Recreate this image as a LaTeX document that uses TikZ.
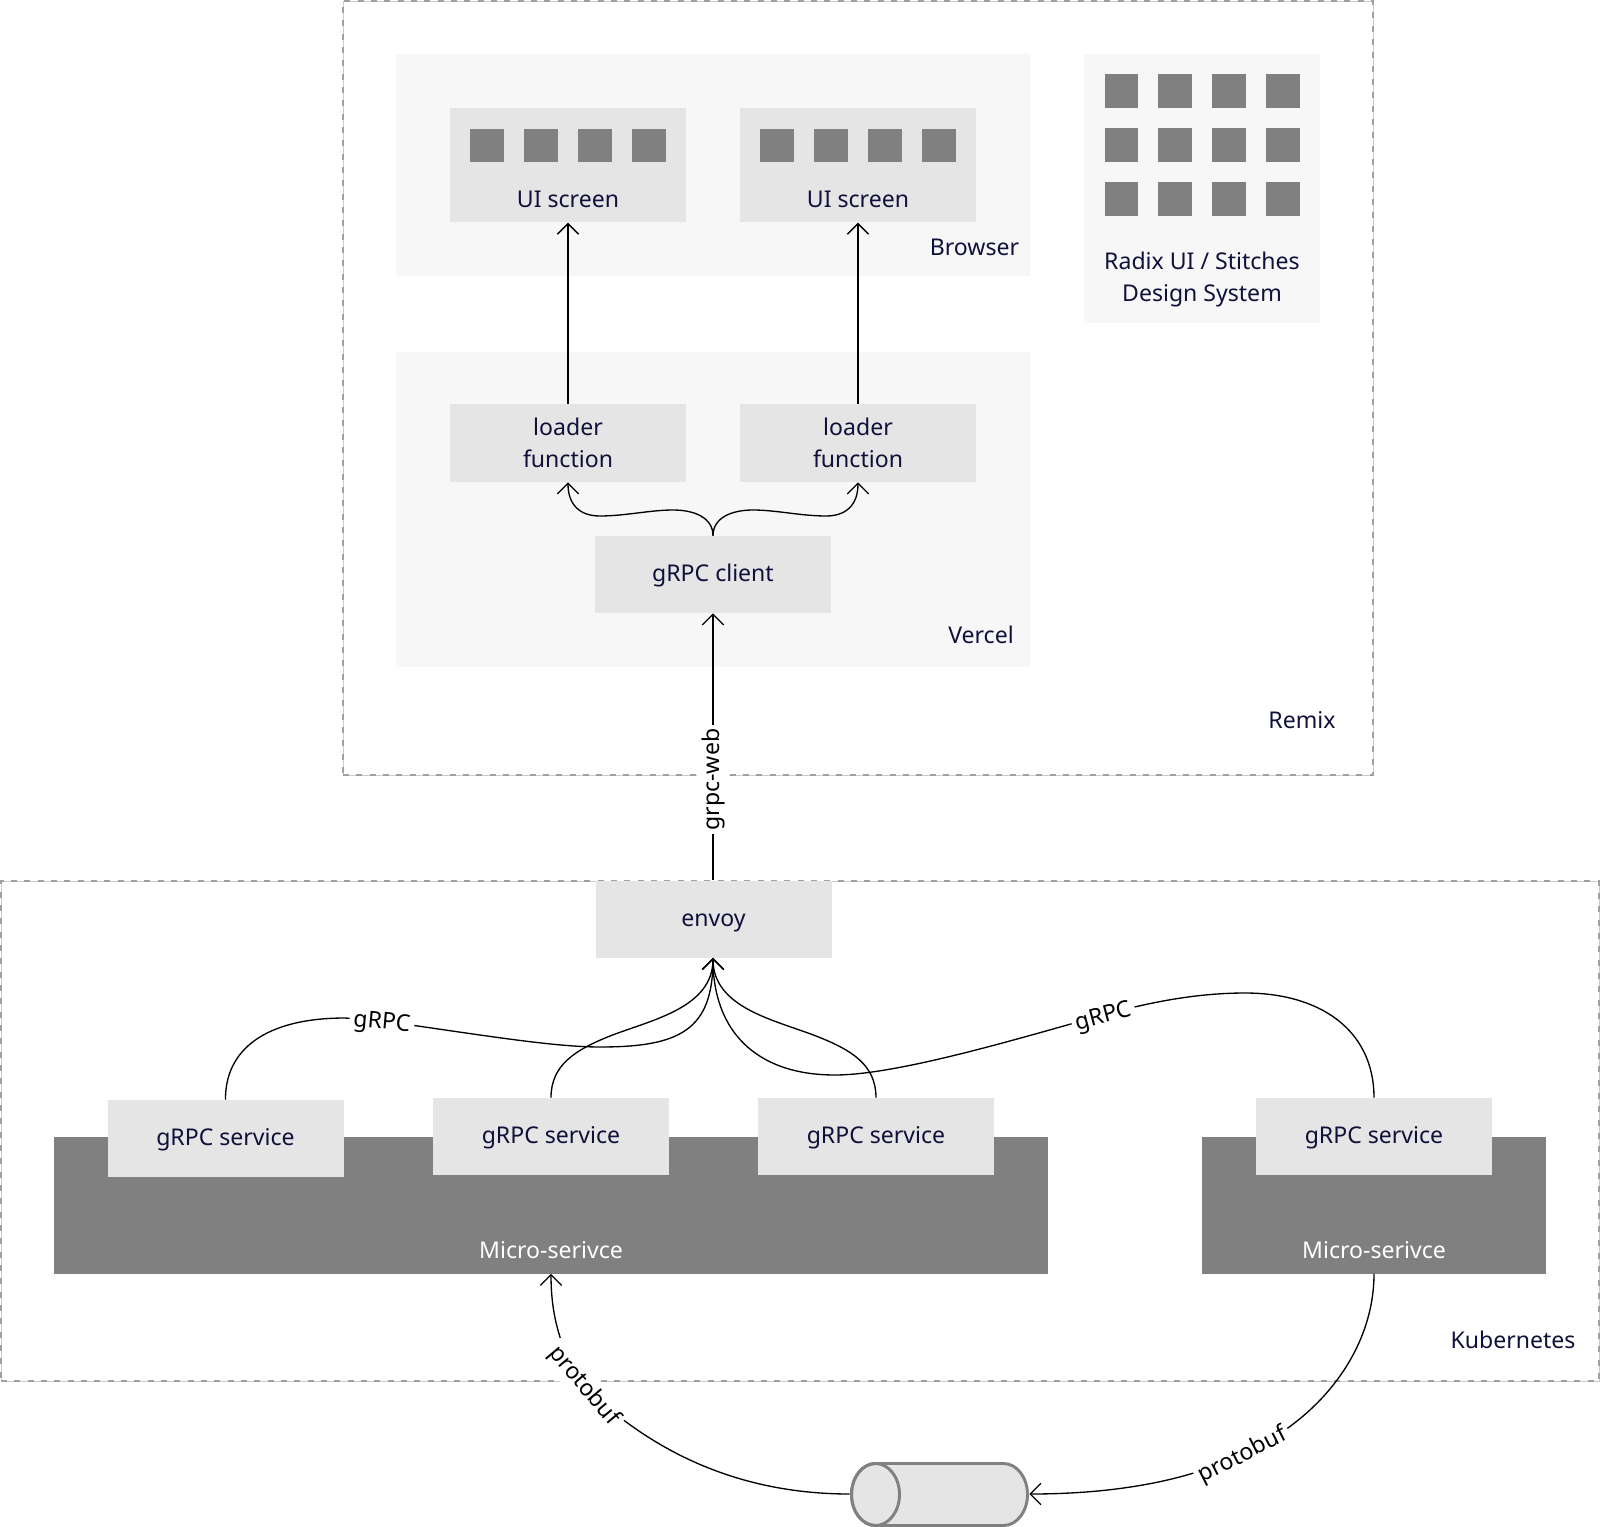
\documentclass[tikz,border=0pt]{standalone}
\usepackage{fontspec}
\setmainfont{Noto Sans}
\usetikzlibrary{arrows.meta}
\definecolor{panelgray}{HTML}{F7F7F7}
\definecolor{blockgray}{HTML}{E5E5E5}
\definecolor{darkgray}{HTML}{808080}
\definecolor{dashgray}{HTML}{A0A0A0}
\definecolor{inktext}{HTML}{10103A}
\tikzset{
    >={Straight Barb[length=8pt,width=16pt]},
    every node/.style={font=\fontsize{17.3}{24}\selectfont, text=inktext, align=center, inner sep=0pt},
    panel/.style={fill=panelgray, minimum width=475.5pt},
    frame/.style={draw=dashgray, dash pattern=on 4.5pt off 5.5pt, line width=1.1pt,
        preaction={draw=dashgray!55, solid, line width=0.7pt}},
    block/.style={fill=blockgray, minimum width=177pt, minimum height=57.75pt},
    oneline/.style={text height=14pt, text depth=3.2pt},
    tile/.style={fill=darkgray, minimum width=25pt, minimum height=25pt},
    base/.style={fill=darkgray, minimum height=102.75pt},
    link/.style={line width=1pt},
    tag/.style={fill=white, text=black, inner sep=3pt},
    lowtag/.style={tag, text height=15.5pt, text depth=3.5pt},
}
\begin{document}
\begin{tikzpicture}[x=0.75pt,y=0.75pt,yscale=-1,xscale=1]
\useasboundingbox (0,0) rectangle (1600,1527);
%Frames
\node[frame, minimum width=772.5pt, minimum height=580.5pt] (remix) at (858,388) {};
\node[frame, minimum width=1198.5pt, minimum height=375pt] (kube) at (800,1131) {};
%Panels
\node[panel, minimum height=166.5pt] (browser) at (713,165) {};
\node[panel, minimum height=236.25pt] (vercel) at (713,509.8) {};
\node[panel, minimum width=177pt, minimum height=201.5pt] (design) at (1202,188.4) {};
%Blocks
\node[block, minimum height=85.5pt] (screenA) at (568,165.4) {};
\node[block, minimum height=85.5pt] (screenB) at (858,165.4) {};
\node[block, minimum height=58.5pt] (loaderA) at (568,443) {loader\\function};
\node[block, minimum height=58.5pt] (loaderB) at (858,443) {loader\\function};
\node[block, oneline] (client) at (713,574.5) {gRPC client};
\node[block, oneline] (envoy) at (713.5,919) {envoy};
%Tiles
\foreach \tx [count=\i] in {487,541,595,649}
    \node[tile] (tileA\i) at (\tx,145.5) {};
\foreach \tx [count=\i] in {777,831,885,939}
    \node[tile] (tileB\i) at (\tx,145.5) {};
\foreach \ty [count=\j] in {91,145,199}
    \foreach \tx [count=\i] in {1121.5,1175,1229,1283}
        \node[tile] (tileC\j\i) at (\tx,\ty) {};
%Services
\node[base, minimum width=745.5pt] (microA) at (551,1205) {};
\node[base, minimum width=258pt] (microB) at (1374,1205) {};
\node[block, oneline] (serviceA) at (225.5,1138.5) {gRPC service};
\node[block, oneline] (serviceB) at (551,1136.5) {gRPC service};
\node[block, oneline] (serviceC) at (876,1136.5) {gRPC service};
\node[block, oneline] (serviceD) at (1374,1136.5) {gRPC service};
%Cylinder
\node[minimum width=134.25pt, minimum height=48pt] (store) at (939.5,1494) {};
\draw[draw=darkgray, line width=2.2pt, fill=blockgray] (875.5,1463.5) -- (1003.5,1463.5)
    arc[start angle=-90, end angle=90, x radius=24, y radius=31] -- (875.5,1525.5)
    arc[start angle=90, end angle=270, x radius=24, y radius=31] -- cycle;
\draw[draw=darkgray, line width=2.2pt] (875.5,1494.5) circle[x radius=24, y radius=31];
%Texts
\node (screenAtext) at (568,199) {UI screen};
\node (screenBtext) at (858,199) {UI screen};
\node (browsertext) at (974.5,247) {Browser};
\node (verceltext) at (981,634.5) {Vercel};
\node (remixtext) at (1302,720) {Remix};
\node (kubetext) at (1513,1340) {Kubernetes};
\node (designtext) at (1202,280) {Radix UI / Stitches\\Design System};
\node[text=white] (microAtext) at (551,1250) {Micro-serivce};
\node[text=white] (microBtext) at (1374,1250) {Micro-serivce};
%Straight Lines
\draw[->, link] (loaderA.north) -- (screenA.south);
\draw[->, link] (loaderB.north) -- (screenB.south);
\draw[->, link] (envoy.north -| client) -- node[tag, pos=0.377, rotate=90] (grpcweb) {grpc-web} (client.south);
%Curve Lines
\draw[->, link] (client.north) .. controls (713,518) and (695,510) .. (673,510)
    .. controls (650,510) and (625,516) .. (600,516)
    .. controls (580,516) and (568,505) .. (loaderA.south);
\draw[->, link] (client.north) .. controls (713,518) and (731,510) .. (753,510)
    .. controls (776,510) and (801,516) .. (826,516)
    .. controls (846,516) and (858,505) .. (loaderB.south);
\draw[->, link] (serviceA.north) .. controls (225,1050) and (265,1018) .. (345,1018)
    -- (382,1021) node[lowtag, rotate=-5] (grpcA) {gRPC}
    .. controls (470,1033) and (550,1047) .. (600,1047)
    .. controls (680,1047) and (713,1030) .. (envoy.south -| client);
\draw[->, link] (serviceB.north) .. controls (551,1065) and (575,1050) .. (610,1036)
    .. controls (651,1020) and (713,1008) .. (envoy.south -| client);
\draw[->, link] (serviceC.north) .. controls (876,1065) and (852,1050) .. (816,1036)
    .. controls (775,1020) and (713,1008) .. (envoy.south -| client);
\draw[->, link] (serviceD.north) .. controls (1374,1030) and (1320,993) .. (1245,993)
    .. controls (1190,993) and (1140,1005) .. (1103,1015)
    node[lowtag, rotate=15] (grpcB) {gRPC}
    .. controls (1030,1035) and (900,1075) .. (835,1075)
    .. controls (755,1075) and (713,1030) .. (envoy.south -| client);
\draw[->, link] (microB.south) .. controls (1374,1350) and (1320,1420) .. (1242,1454)
    node[lowtag, rotate=27] (protoB) {protobuf}
    .. controls (1180,1485) and (1100,1494) .. (store.east);
\draw[->, link] (store.west) .. controls (750,1494) and (660,1460) .. (584,1386)
    node[tag, rotate=-50] (protoA) {protobuf}
    .. controls (560,1350) and (551,1315) .. (microA.south);
\end{tikzpicture}
\end{document}
